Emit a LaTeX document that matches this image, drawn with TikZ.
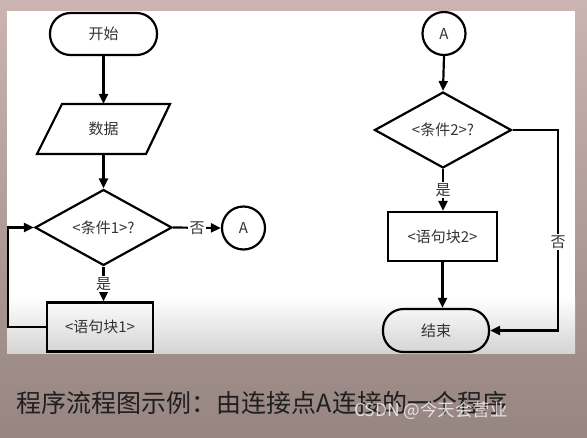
\documentclass[tikz,border=0pt]{standalone}
\usepackage{fontspec}
\newfontfamily\cjk{Noto Sans CJK SC}
\usetikzlibrary{arrows.meta,shapes.geometric}
\definecolor{bgtop}{HTML}{CBB4B2}
\definecolor{bgbot}{HTML}{968581}
\definecolor{ink}{HTML}{333333}
\begin{document}
\begin{tikzpicture}[x=1pt,y=-1pt,
  line/.style={line width=2.2pt, draw=black},
  arr/.style={line, -{Triangle[length=10pt,width=9pt]}},
  lbl/.style={font=\cjk\fontsize{15}{15}\selectfont, text=ink},
  term/.style={lbl, draw, line width=2.2pt, rounded corners=20.5pt, minimum height=42pt, inner sep=0pt},
  proc/.style={lbl, draw, line width=2.2pt, minimum height=49pt, inner sep=0pt},
  dec/.style={lbl, draw, line width=2.2pt, diamond, minimum width=137pt, minimum height=65pt, inner sep=0pt},
  conn/.style={lbl, draw, line width=2.2pt, circle, minimum size=43pt, inner sep=0pt},
  yn/.style={lbl, fill=white, inner sep=1.5pt}
]
\useasboundingbox (0,0) rectangle (587,437);
\shade[top color=bgtop, bottom color=bgbot] (0,0) rectangle (587,437);
\fill[white] (7,11) rectangle (575,297);
\shade[top color=white, bottom color=black!17] (7,297) rectangle (575,353);

% left flow
\node[term, minimum width=107pt] (start) at (103.5,34) {开始};
\node[lbl, minimum height=50pt, minimum width=80pt, inner sep=0pt] (data) at (103.5,129) {数据};
\draw[line, line join=miter] (62,104) -- (170,104) -- (146,154) -- (37,154) -- cycle;
\node[dec] (d1) at (103.5,227.5) {<条件1>?};
\node[conn] (a1) at (243.5,228) {A};
\node[proc, minimum width=106pt] (b1) at (100,327) {<语句块1>};

\draw[arr] (start.south) -- (data.north);
\draw[arr] (data.south) -- (d1.north);
\draw[arr] (d1.east) -- node[yn] {否} (a1.west);
\draw[arr] (d1.south) -- node[yn] {是} (d1.south |- b1.north);
\draw[arr] (b1.west) -- ++(-38,0) |- (d1.west);

% right flow
\node[conn] (a2) at (444,33.5) {A};
\node[dec] (d2) at (443,130) {<条件2>?};
\node[proc, minimum width=109pt] (b2) at (442.5,236.5) {<语句块2>};
\node[term, minimum width=106pt, minimum height=43pt] (end) at (436,330.5) {结束};
\coordinate (c2) at (558,130);

\draw[arr] (a2.south) -- (d2.north);
\draw[arr] (d2.south) -- node[yn] {是} (d2.south |- b2.north);
\draw[arr] (b2.south) -- (b2.south |- end.north);
\draw[arr] (d2.east) -- (c2) |- node[yn, pos=0.28] {否} (end.east);

% caption
\node[font=\cjk\fontsize{25}{25}\selectfont, text=black!88] (cap) at (262,403) {程序流程图示例：由连接点A连接的一个程序};
\node[font=\cjk\fontsize{17.5}{17.5}\selectfont, text=white, opacity=0.75] (wm) at (431,411) {CSDN @今天会营业};
\end{tikzpicture}
\end{document}
